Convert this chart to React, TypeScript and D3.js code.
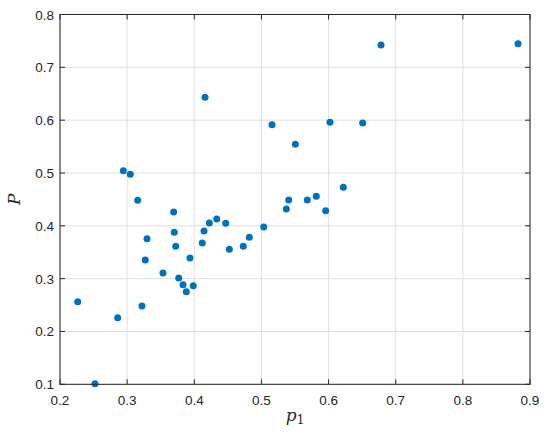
import React from "react";
import * as d3 from "d3";

const p1Values = [
  0.2943, 0.3047, 0.3157, 0.3693, 0.3702, 0.3296, 0.3723, 0.327, 0.3936, 0.3534,
  0.3768, 0.3832, 0.3881, 0.3985, 0.4145, 0.4224, 0.4334, 0.4468, 0.4119, 0.4522,
  0.473, 0.482, 0.2264, 0.2859, 0.3221, 0.2521, 0.5034, 0.5371, 0.5406, 0.5683,
  0.5817, 0.5957, 0.622, 0.6781, 0.8822, 0.416, 0.5158, 0.5505, 0.6021, 0.6508,
];
const PValues = [
  0.5043, 0.4975, 0.4483, 0.4262, 0.3877, 0.3756, 0.3612, 0.3353, 0.3391, 0.3107,
  0.3012, 0.2885, 0.2753, 0.2867, 0.3902, 0.4053, 0.4129, 0.4048, 0.3675, 0.3556,
  0.3612, 0.3783, 0.2564, 0.2261, 0.2482, 0.1012, 0.3978, 0.4318, 0.4489, 0.4489,
  0.4559, 0.4286, 0.4729, 0.7423, 0.7447, 0.6433, 0.5914, 0.5543, 0.5959, 0.5946,
];
const xTicks = [0.2, 0.3, 0.4, 0.5, 0.6, 0.7, 0.8, 0.9];
const yTicks = [0.1, 0.2, 0.3, 0.4, 0.5, 0.6, 0.7, 0.8];

export default function App() {
  const W = 550, H = 439;
  const left = 60, right = 530, top = 14.5, bottom = 384.3;
  const x = d3.scaleLinear().domain([0.2, 0.9]).range([left, right]);
  const y = d3.scaleLinear().domain([0.1, 0.8]).range([bottom, top]);
  const axisColor = "#262626";
  const tickLen = 5;
  const font = "'Liberation Sans', Arial, Helvetica, sans-serif";
  return (
    <svg width={W} height={H} style={{ position: "absolute", left: 0, top: 0, background: "#fff" }}>
      <rect x={0} y={0} width={W} height={H} fill="#fff" />
      {xTicks.map((t) => (
        <line key={"gx" + t} x1={x(t)} x2={x(t)} y1={top} y2={bottom} stroke="#dfdfdf" strokeWidth={1} />
      ))}
      {yTicks.map((t) => (
        <line key={"gy" + t} x1={left} x2={right} y1={y(t)} y2={y(t)} stroke="#dfdfdf" strokeWidth={1} />
      ))}
      {p1Values.map((v, i) => (
        <circle key={"p" + i} cx={x(v)} cy={y(PValues[i])} r={3.5} fill="#0072BD" />
      ))}
      <rect x={left} y={top} width={right - left} height={bottom - top} fill="none" stroke={axisColor} strokeWidth={1} />
      {xTicks.map((t) => (
        <g key={"tx" + t}>
          <line x1={x(t)} x2={x(t)} y1={bottom} y2={bottom - tickLen} stroke={axisColor} />
          <line x1={x(t)} x2={x(t)} y1={top} y2={top + tickLen} stroke={axisColor} />
          <text x={x(t)} y={bottom + 21} textAnchor="middle" fontFamily={font} fontSize={13.5} fill={axisColor}>
            {d3.format(".1f")(t)}
          </text>
        </g>
      ))}
      {yTicks.map((t) => (
        <g key={"ty" + t}>
          <line x1={left} x2={left + tickLen} y1={y(t)} y2={y(t)} stroke={axisColor} />
          <line x1={right} x2={right - tickLen} y1={y(t)} y2={y(t)} stroke={axisColor} />
          <text x={left - 6} y={y(t) + 5} textAnchor="end" fontFamily={font} fontSize={13.5} fill={axisColor}>
            {d3.format(".1f")(t)}
          </text>
        </g>
      ))}
      <text x={(left + right) / 2} y={421} textAnchor="middle" fontFamily="'DejaVu Serif', 'Liberation Serif', serif" fontStyle="italic" fontSize={17} fill="#262626">
        p<tspan fontStyle="normal" fontSize={12} dy={3}>1</tspan>
      </text>
      <text transform={`translate(20, ${(top + bottom) / 2}) rotate(-90)`} textAnchor="middle" fontFamily="'DejaVu Serif', 'Liberation Serif', serif" fontStyle="italic" fontSize={17} fill="#262626">
        P
      </text>
    </svg>
  );
}
